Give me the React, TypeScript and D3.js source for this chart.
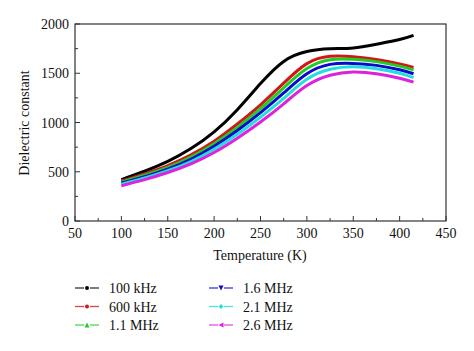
import * as d3 from 'd3';

const temps = [100, 125, 150, 175, 200, 225, 250, 275, 300, 325, 350, 375, 400, 415];
const k100 = [420, 505, 605, 735, 905, 1130, 1395, 1620, 1720, 1748, 1757, 1795, 1843, 1885];
const k600 = [405, 478, 562, 672, 810, 985, 1180, 1400, 1598, 1672, 1668, 1640, 1595, 1560];
const m11 = [395, 465, 545, 650, 785, 950, 1140, 1352, 1548, 1638, 1642, 1618, 1572, 1535];
const m16 = [385, 450, 527, 627, 758, 918, 1100, 1300, 1495, 1590, 1600, 1580, 1535, 1495];
const m21 = [372, 436, 510, 603, 728, 880, 1055, 1245, 1438, 1540, 1565, 1545, 1500, 1455];
const m26 = [358, 420, 492, 580, 695, 840, 1005, 1190, 1375, 1480, 1512, 1495, 1450, 1410];

const xTicks = [50, 100, 150, 200, 250, 300, 350, 400, 450];
const yTicks = [0, 500, 1000, 1500, 2000];

const series = [
  { label: '100 kHz', values: k100, color: '#000000', marker: 'circle' },
  { label: '600 kHz', values: k600, color: '#d01818', marker: 'circle' },
  { label: '1.1 MHz', values: m11, color: '#22cc22', marker: 'up' },
  { label: '1.6 MHz', values: m16, color: '#0a0acc', marker: 'down' },
  { label: '2.1 MHz', values: m21, color: '#22dede', marker: 'diamond' },
  { label: '2.6 MHz', values: m26, color: '#dd22dd', marker: 'left' },
];

const font = "'Times New Roman', 'Liberation Serif', Tinos, 'Noto Serif', 'DejaVu Serif', serif";

function Marker({ type, x, y, color }: { type: string; x: number; y: number; color: string }) {
  const s = 2.5;
  if (type === 'circle') return <circle cx={x} cy={y} r={2} fill={color} />;
  let pts: number[][] = [];
  if (type === 'up') pts = [[x, y - s], [x + s, y + s], [x - s, y + s]];
  if (type === 'down') pts = [[x, y + s], [x + s, y - s], [x - s, y - s]];
  if (type === 'left') pts = [[x - s, y], [x + s, y - s], [x + s, y + s]];
  if (type === 'diamond') pts = [[x, y - s], [x + s, y], [x, y + s], [x - s, y]];
  return <polygon points={pts.map((p) => p.join(',')).join(' ')} fill={color} />;
}

export default function App() {
  const width = 474;
  const height = 351;
  const x = d3.scaleLinear().domain([50, 450]).range([75, 446]);
  const y = d3.scaleLinear().domain([0, 2000]).range([221, 24]);
  const line = d3
    .line<number>()
    .x((_, i) => x(temps[i]))
    .y((d) => y(d))
    .curve(d3.curveNatural);

  const xMinor = d3.range(75, 450, 50);
  const yMinor = d3.range(250, 2000, 500);

  return (
    <svg
      width={width}
      height={height}
      style={{ position: 'absolute', left: 0, top: 0, background: '#fff', fontFamily: font }}
    >
      <rect x={75} y={24} width={371} height={197} fill="none" stroke="#333" strokeWidth={1.2} />
      {series.map((s) => (
        <path key={s.label} d={line(s.values) ?? ''} fill="none" stroke={s.color} strokeWidth={3} />
      ))}
      {xTicks.map((t) => (
        <g key={t}>
          <line x1={x(t)} x2={x(t)} y1={221} y2={216} stroke="#333" />
          <text x={x(t)} y={238} textAnchor="middle" fontSize={14} fill="#111">
            {t}
          </text>
        </g>
      ))}
      {xMinor.map((t) => (
        <line key={t} x1={x(t)} x2={x(t)} y1={221} y2={218} stroke="#333" />
      ))}
      {yTicks.map((t) => (
        <g key={t}>
          <line x1={75} x2={80} y1={y(t)} y2={y(t)} stroke="#333" />
          <text x={69} y={y(t) + 5} textAnchor="end" fontSize={14} fill="#111">
            {t}
          </text>
        </g>
      ))}
      {yMinor.map((t) => (
        <line key={t} x1={75} x2={78} y1={y(t)} y2={y(t)} stroke="#333" />
      ))}
      <text x={260} y={260} textAnchor="middle" fontSize={14} fill="#111">
        Temperature (K)
      </text>
      <text
        transform="translate(29,123) rotate(-90)"
        textAnchor="middle"
        fontSize={14}
        fill="#111"
      >
        Dielectric constant
      </text>
      {series.map((s, i) => {
        const col = Math.floor(i / 3);
        const row = i % 3;
        const lx = col === 0 ? 75 : 209;
        const ly = 288 + row * 18.5;
        return (
          <g key={s.label}>
            <line x1={lx} x2={lx + 9} y1={ly} y2={ly} stroke={s.color} strokeWidth={1.3} opacity={0.8} />
            <line x1={lx + 15} x2={lx + 24} y1={ly} y2={ly} stroke={s.color} strokeWidth={1.3} opacity={0.8} />
            <Marker type={s.marker} x={lx + 12} y={ly} color={s.color} />
            <text x={lx + 34} y={ly + 5} fontSize={14} fill="#111">
              {s.label}
            </text>
          </g>
        );
      })}
    </svg>
  );
}
